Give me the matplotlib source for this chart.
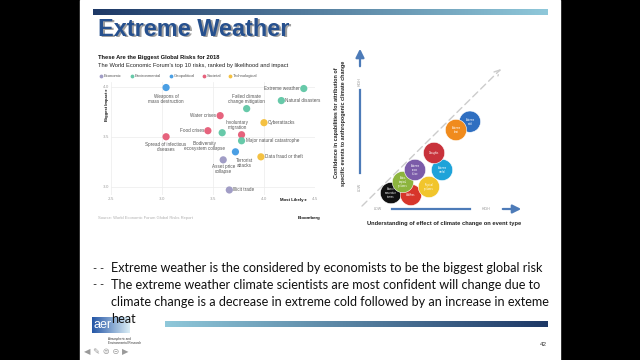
import numpy as np
import matplotlib
matplotlib.use("Agg")
import matplotlib.pyplot as plt
from matplotlib.colors import LinearSegmentedColormap
from matplotlib.patches import Rectangle

W, H = 640, 360

# left chart: WEF top risks 2018 (likelihood vs impact)
risk_names = ["Weapons of\nmass destruction", "Extreme weather", "Natural disasters",
              "Failed climate\nchange mitigation", "Water crises", "Cyberattacks",
              "Food crises", "Biodiversity\necosystem collapse", "Involuntary\nmigration",
              "Spread of infectious\ndiseases", "Major natural catastrophe",
              "Terrorist\nattacks", "Data fraud or theft", "Asset price\ncollapse",
              "Illicit trade"]
risk_likelihood = [3.04, 4.39, 4.17, 3.83, 3.57, 4.00, 3.45, 3.59, 3.78, 3.04,
                   3.78, 3.72, 3.97, 3.60, 3.66]
risk_impact = [3.99, 3.98, 3.86, 3.78, 3.71, 3.64, 3.56, 3.54, 3.52, 3.50,
               3.46, 3.35, 3.30, 3.27, 2.97]
risk_category = ["Geopolitical", "Environmental", "Environmental", "Environmental",
                 "Societal", "Technological", "Societal", "Environmental", "Societal",
                 "Societal", "Environmental", "Geopolitical", "Technological",
                 "Economic", "Economic"]
categories = ["Economic", "Environmental", "Geopolitical", "Societal", "Technological"]
x_ticks = [2.5, 3.0, 3.5, 4.0, 4.5]
y_ticks = [3.0, 3.5, 4.0]

# right chart: attribution confidence vs understanding
event_names = ["Severe\nconvective\nstorms", "Wildfires", "Extra-\ntropical\ncyclones",
               "Tropical\ncyclones", "Extreme\nsnow\n& ice", "Extreme\nrainfall",
               "Droughts", "Extreme\ncold", "Extreme\nheat"]
event_understanding = [2.12, 3.29, 2.82, 4.35, 3.53, 5.12, 4.65, 6.76, 5.94]
event_confidence = [1.29, 1.18, 1.94, 1.65, 2.65, 2.65, 3.65, 5.49, 5.0]

bullets = ["Extreme weather is the considered by economists to be the biggest global risk",
           "The extreme weather climate scientists are most confident will change due to",
           "climate change is a decrease in extreme cold followed by an increase in exteme",
           "heat"]

cat_colors = {"Economic": "#a19dc6", "Environmental": "#67c9a9", "Geopolitical": "#4b9fe4",
              "Societal": "#e6637d", "Technological": "#f4c142"}
event_colors = ["#111111", "#d7362b", "#8db43e", "#f1c52c", "#7b5ba9", "#1ea3d9",
                "#c8323b", "#2f6fc1", "#f08b1d"]

# label placement for each risk: dx, dy (pixels), ha, va
label_pos = [(0, -6, "center", "top"), (-4, 0, "right", "center"), (4, 0, "left", "center"),
             (0, 5, "center", "bottom"), (-4, 0, "right", "center"), (4, 0, "left", "center"),
             (-4, 0, "right", "center"), (-18, -8, "center", "top"), (-4, 5, "center", "bottom"),
             (0, -5, "center", "top"), (4, 0, "left", "center"), (9, -6, "center", "top"),
             (4, 0, "left", "center"), (0, -4, "center", "top"), (4, 0, "left", "center")]
legend_x = [101, 132, 171, 204, 230]

SANS = ["Liberation Sans", "DejaVu Sans"]

fig = plt.figure(figsize=(W / 100, H / 100), dpi=100, facecolor="black")
bg = fig.add_axes([0, 0, 1, 1])
bg.set_xlim(0, W)
bg.set_ylim(H, 0)
bg.axis("off")
bg.add_patch(Rectangle((80, 0), 480, H, color="white", zorder=0))


def px_axes(x0, y0, x1, y1):
    return fig.add_axes([x0 / W, 1 - y1 / H, (x1 - x0) / W, (y1 - y0) / H])


def fit_text(x, y, s, width, **kw):
    t = bg.text(x, y, s, **kw)
    r = fig.canvas.get_renderer()
    w = t.get_window_extent(r).width
    t.set_fontsize(t.get_fontsize() * width / w)
    return t


def gradient_bar(x0, x1, y0, y1, c_left, c_right):
    cm = LinearSegmentedColormap.from_list("g", [c_left, c_right])
    bg.imshow(np.linspace(0, 1, 256)[None, :], cmap=cm, aspect="auto",
              extent=[x0, x1, y1, y0], zorder=1)


# slide chrome
gradient_bar(93, 548, 9, 15, "#1d3866", "#8fc8da")
gradient_bar(165, 548, 321, 327, "#8fc8da", "#1d3866")
fit_text(99.5, 37, "Extreme Weather", 192, color="#a0a0a0", fontsize=16,
         fontweight="bold", family=SANS, va="baseline", zorder=2)
fit_text(98, 35.5, "Extreme Weather", 192, color="#26508e", fontsize=16,
         fontweight="bold", family=SANS, va="baseline", zorder=3)

# bullets
for i in range(2):
    bg.text(93, 268 + i * 17, "- -", fontsize=8, family="Lato", va="center",
            color="#222222")
bullet_txt = []
for i, line in enumerate(bullets):
    y = 268 + i * 17
    bullet_txt.append(bg.text(111, y, line, fontsize=8.5, family="Lato", va="center",
                              color="#111111"))
r = fig.canvas.get_renderer()
scale = 433 / bullet_txt[0].get_window_extent(r).width
for t in bullet_txt:
    t.set_fontsize(8.5 * scale)

# aer logo + page number + nav icons
gradient_bar(92, 130, 317, 333, "#2456a6", "#dbeef6")
bg.text(94, 325, "aer", color="white", fontsize=9, family=SANS, va="center")
bg.text(108, 341, "Atmospheric and\nEnvironmental Research", fontsize=2.2, family=SANS,
        va="center", color="#333333", linespacing=1.3)
bg.text(540, 345, "42", fontsize=4.5, family=SANS, va="center", color="#333333")
bg.text(84, 352, "\u25c0 \u270e \u229c \u229d \u25b6", fontsize=6, family=["DejaVu Sans"],
        va="center", color="#9a9a9a")

# ---- left chart: risks ----
fit_text(98, 58, "These Are the Biggest Global Risks for 2018", 119, fontsize=4,
         fontweight="bold", family=SANS, va="center", color="#111111")
fit_text(98, 65, "The World Economic Forum\u2019s top 10 risks, ranked by likelihood and impact",
         189, fontsize=4, family=SANS, va="center", color="#222222")
for cat, lx in zip(categories, legend_x):
    bg.scatter([lx], [76], s=3, color=cat_colors[cat], zorder=3)
    bg.text(lx + 2.5, 76, cat, fontsize=3.0, family=SANS, va="center", color="#555555")
bg.text(98, 218, "Source: World Economic Forum Global Risks Report", fontsize=3.0,
        family=SANS, va="center", color="#b0b0b0")
bg.text(320, 218, "Bloomberg", fontsize=3.2, family=SANS, va="center", ha="right",
        fontweight="bold", color="#111111")

ax = px_axes(111, 81.5, 315, 195)
ax.set_facecolor("none")
ax.set_xlim(2.5, 4.5)
ax.set_ylim(2.92, 4.05)
for s in ax.spines.values():
    s.set_visible(False)
ax.set_xticks(x_ticks)
ax.set_yticks(y_ticks)
ax.set_xticklabels(["%.1f" % v for v in x_ticks])
ax.set_yticklabels(["%.1f" % v for v in y_ticks])
ax.tick_params(length=0, labelsize=3.0, labelcolor="#a0a0a0", pad=1.5)
ax.grid(True, color="#ececec", lw=0.5)
ax.set_axisbelow(True)

cols = [cat_colors[c] for c in risk_category]
ax.scatter(risk_likelihood, risk_impact, s=27, c=cols, zorder=3, clip_on=False,
           linewidths=0)
for name, x, y, (dx, dy, ha, va) in zip(risk_names, risk_likelihood, risk_impact, label_pos):
    ax.annotate(name, (x, y), xytext=(dx, dy), textcoords="offset pixels", ha=ha, va=va,
                fontsize=3.3, family=SANS, color="#555555", linespacing=1.0)
bg.text(107, 105, "Biggest Impact \u25b8", rotation=90, fontsize=3.0, family=SANS,
        fontweight="bold", ha="center", va="center", color="#111111")
bg.text(307, 200, "Most Likely \u25b8", fontsize=3.2, family=SANS, fontweight="bold",
        ha="right", va="center", color="#111111")

# ---- right chart: attribution diagram ----
arrow_c = "#4d7bb8"
bg.annotate("", xy=(360, 46), xytext=(360, 69),
            arrowprops=dict(arrowstyle="-|>,head_width=0.25,head_length=0.5", color=arrow_c, lw=1.6))
bg.plot([360, 360], [90, 173], color=arrow_c, lw=1.6)
bg.text(360, 82, "HIGH", rotation=90, fontsize=2.6, family=SANS, ha="center", va="center",
        color="#999999")
bg.text(360, 187, "LOW", rotation=90, fontsize=2.6, family=SANS, ha="center", va="center",
        color="#999999")
bg.plot([392, 470], [209, 209], color=arrow_c, lw=1.6)
bg.annotate("", xy=(524, 209), xytext=(500, 209),
            arrowprops=dict(arrowstyle="-|>,head_width=0.25,head_length=0.5", color=arrow_c, lw=1.6))
bg.text(378, 209, "LOW", fontsize=2.6, family=SANS, ha="center", va="center", color="#999999")
bg.text(486, 209, "HIGH", fontsize=2.6, family=SANS, ha="center", va="center", color="#999999")
bg.annotate("", xy=(503, 67), xytext=(360, 208),
            arrowprops=dict(arrowstyle="->,head_width=0.2,head_length=0.4", color="#cccccc",
                            lw=1.0, linestyle=(0, (5, 3))))
bg.text(340, 123, "Confidence in capabilities for attribution of\n"
        "specific events to anthropogenic climate change", rotation=90, fontsize=3.9,
        family=SANS, fontweight="bold", ha="center", va="center", color="#222222",
        linespacing=1.3)
fit_text(367, 224, "Understanding of effect of climate change on event type", 155,
         fontsize=4.5, family=SANS, fontweight="bold", va="center", color="#222222")

ax2 = px_axes(355, 45, 525, 215)
ax2.set_facecolor("none")
ax2.set_xlim(0, 10)
ax2.set_ylim(0, 10)
ax2.axis("off")
ax2.scatter(event_understanding, event_confidence, s=235, c=event_colors, zorder=3,
            linewidths=0.4, edgecolors="white")
for name, x, y in zip(event_names, event_understanding, event_confidence):
    ax2.text(x, y, name, fontsize=1.8, family=SANS, color="white", ha="center",
             va="center", zorder=4, linespacing=1.0)

fig.savefig("out.png", dpi=100, facecolor="black")
